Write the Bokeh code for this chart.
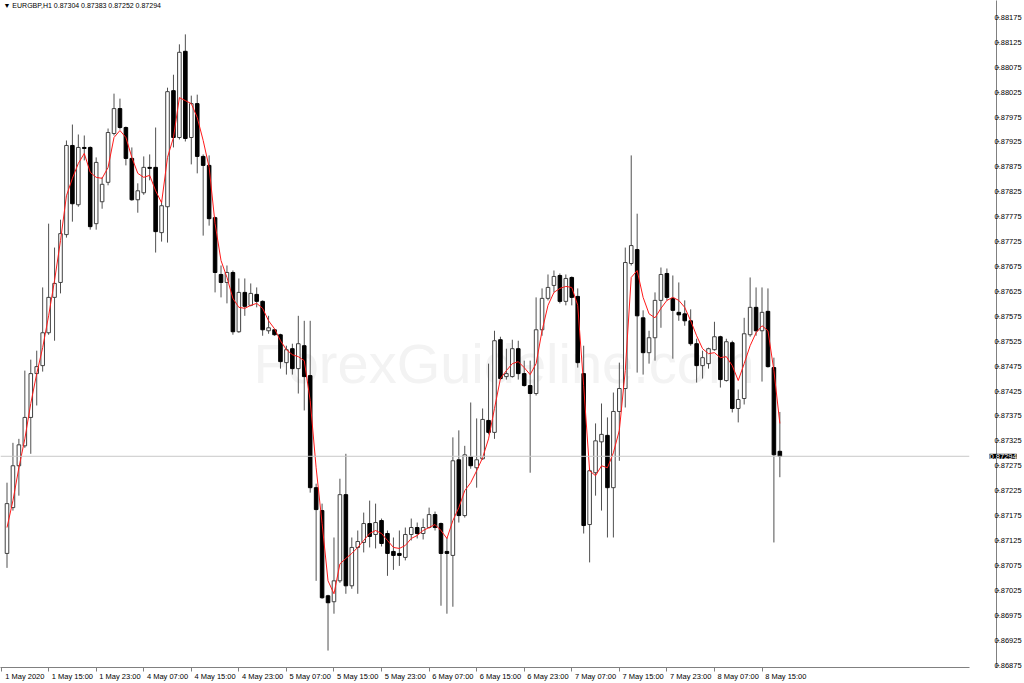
from bokeh.plotting import figure
from bokeh.models import Range1d, FixedTicker, Span, Label, PrintfTickFormatter, ColumnDataSource, LinearAxis
from bokeh.embed import file_html
from bokeh.resources import INLINE

# EURGBP H1 candles, 1 May 2020 08:00 -> 8 May 2020 18:00 (prices)
opens = [0.87099,0.87191,0.87275,0.87315,0.87372,0.87460,0.87476,0.87542,0.87613,0.87643,
         0.87739,0.87918,0.87799,0.87914,0.87914,0.87761,0.87805,0.87844,0.87942,0.87992,
         0.87954,0.87892,0.87809,0.87823,0.87874,0.87874,0.87743,0.87795,0.88028,0.87934,
         0.88107,0.87934,0.88002,0.87896,0.87878,0.87773,0.87659,0.87643,0.87663,0.87544,
         0.87623,0.87597,0.87619,0.87605,0.87546,0.87548,0.87538,0.87482,0.87510,0.87470,
         0.87516,0.87456,0.87231,0.87185,0.87014,0.87002,0.87044,0.87217,0.87034,0.87111,
         0.87121,0.87159,0.87137,0.87165,0.87139,0.87103,0.87099,0.87091,0.87137,0.87151,
         0.87139,0.87151,0.87177,0.87159,0.87103,0.87095,0.87287,0.87175,0.87293,0.87271,
         0.87289,0.87366,0.87342,0.87528,0.87454,0.87454,0.87510,0.87460,0.87436,0.87420,
         0.87548,0.87611,0.87637,0.87657,0.87605,0.87653,0.87615,0.87460,0.87157,0.87261,
         0.87323,0.87336,0.87231,0.87384,0.87430,0.87681,0.87709,0.87572,0.87502,0.87532,
         0.87607,0.87661,0.87611,0.87583,0.87580,0.87566,0.87520,0.87476,0.87480,0.87508,
         0.87534,0.87446,0.87522,0.87390,0.87410,0.87538,0.87593,0.87546,0.87585,0.87472,
         0.87304]
highs = [0.87241,0.87321,0.87329,0.87466,0.87488,0.87506,0.87633,0.87761,0.87713,0.87769,
         0.87928,0.87960,0.87940,0.87938,0.87916,0.87894,0.87854,0.87952,0.88022,0.88012,
         0.87956,0.87914,0.87842,0.87896,0.87900,0.87954,0.87807,0.88034,0.88060,0.88121,
         0.88141,0.88018,0.88020,0.87900,0.87898,0.87775,0.87677,0.87677,0.87667,0.87651,
         0.87651,0.87641,0.87633,0.87607,0.87576,0.87550,0.87540,0.87516,0.87520,0.87576,
         0.87566,0.87566,0.87239,0.87199,0.87016,0.87131,0.87249,0.87299,0.87131,0.87145,
         0.87181,0.87205,0.87199,0.87169,0.87145,0.87131,0.87145,0.87151,0.87169,0.87161,
         0.87169,0.87191,0.87183,0.87161,0.87131,0.87332,0.87346,0.87315,0.87402,0.87370,
         0.87390,0.87480,0.87546,0.87534,0.87510,0.87528,0.87526,0.87486,0.87486,0.87613,
         0.87631,0.87659,0.87667,0.87661,0.87659,0.87655,0.87631,0.87516,0.87269,0.87360,
         0.87400,0.87372,0.87422,0.87482,0.87713,0.87898,0.87781,0.87587,0.87546,0.87623,
         0.87673,0.87671,0.87657,0.87643,0.87607,0.87589,0.87530,0.87506,0.87512,0.87564,
         0.87536,0.87530,0.87526,0.87428,0.87572,0.87653,0.87633,0.87633,0.87631,0.87492,
         0.87383]
lows = [0.87070,0.87185,0.87215,0.87311,0.87299,0.87396,0.87464,0.87538,0.87526,0.87621,
        0.87733,0.87765,0.87795,0.87888,0.87749,0.87749,0.87791,0.87838,0.87938,0.87950,
        0.87878,0.87807,0.87783,0.87819,0.87848,0.87703,0.87725,0.87723,0.87914,0.87930,
        0.87926,0.87880,0.87862,0.87737,0.87757,0.87623,0.87613,0.87601,0.87538,0.87542,
        0.87576,0.87595,0.87593,0.87536,0.87540,0.87536,0.87470,0.87458,0.87458,0.87420,
        0.87386,0.87221,0.87044,0.87008,0.86904,0.86978,0.87040,0.87018,0.87028,0.87018,
        0.87101,0.87111,0.87109,0.87113,0.87054,0.87066,0.87074,0.87085,0.87125,0.87129,
        0.87127,0.87149,0.87145,0.86994,0.86978,0.86992,0.87161,0.87171,0.87269,0.87231,
        0.87287,0.87338,0.87329,0.87448,0.87448,0.87452,0.87448,0.87434,0.87261,0.87416,
        0.87536,0.87607,0.87623,0.87601,0.87597,0.87597,0.87472,0.87139,0.87081,0.87215,
        0.87185,0.87131,0.87131,0.87285,0.87392,0.87677,0.87462,0.87458,0.87480,0.87486,
        0.87552,0.87607,0.87490,0.87566,0.87556,0.87516,0.87442,0.87450,0.87470,0.87506,
        0.87432,0.87444,0.87382,0.87362,0.87398,0.87534,0.87536,0.87444,0.87472,0.87121,
        0.87252]
closes = [0.87199,0.87275,0.87317,0.87372,0.87460,0.87474,0.87542,0.87613,0.87641,0.87741,
          0.87918,0.87801,0.87914,0.87912,0.87755,0.87884,0.87840,0.87944,0.87992,0.87954,
          0.87892,0.87809,0.87827,0.87874,0.87872,0.87745,0.87797,0.88026,0.87934,0.88105,
          0.87932,0.88002,0.87896,0.87878,0.87771,0.87663,0.87643,0.87663,0.87544,0.87623,
          0.87595,0.87621,0.87605,0.87548,0.87552,0.87538,0.87484,0.87508,0.87470,0.87520,
          0.87454,0.87231,0.87187,0.87010,0.87000,0.87044,0.87217,0.87034,0.87111,0.87123,
          0.87159,0.87133,0.87161,0.87119,0.87099,0.87095,0.87095,0.87137,0.87151,0.87139,
          0.87151,0.87177,0.87151,0.87099,0.87099,0.87285,0.87175,0.87297,0.87275,0.87287,
          0.87368,0.87342,0.87526,0.87450,0.87460,0.87510,0.87460,0.87436,0.87420,0.87548,
          0.87611,0.87633,0.87655,0.87605,0.87651,0.87613,0.87482,0.87155,0.87265,0.87325,
          0.87338,0.87231,0.87384,0.87430,0.87683,0.87717,0.87576,0.87502,0.87532,0.87607,
          0.87659,0.87613,0.87587,0.87578,0.87566,0.87520,0.87476,0.87492,0.87510,0.87534,
          0.87448,0.87524,0.87390,0.87408,0.87540,0.87593,0.87546,0.87583,0.87474,0.87297,
          0.87294]
# red smoothed moving-average line
ma = [0.87151,0.87205,0.87271,0.87329,0.87400,0.87460,0.87512,0.87576,0.87647,0.87727,
      0.87817,0.87852,0.87882,0.87902,0.87864,0.87854,0.87852,0.87874,0.87934,0.87948,
      0.87934,0.87894,0.87862,0.87854,0.87858,0.87827,0.87803,0.87894,0.87934,0.88014,
      0.88008,0.88002,0.87974,0.87928,0.87874,0.87761,0.87687,0.87653,0.87611,0.87593,
      0.87591,0.87597,0.87601,0.87591,0.87566,0.87550,0.87526,0.87508,0.87498,0.87494,
      0.87486,0.87406,0.87271,0.87159,0.87044,0.87018,0.87078,0.87089,0.87099,0.87111,
      0.87125,0.87139,0.87145,0.87139,0.87125,0.87111,0.87109,0.87115,0.87129,0.87135,
      0.87145,0.87151,0.87157,0.87145,0.87129,0.87165,0.87191,0.87225,0.87241,0.87265,
      0.87291,0.87329,0.87390,0.87450,0.87466,0.87480,0.87484,0.87472,0.87458,0.87480,
      0.87546,0.87597,0.87623,0.87631,0.87635,0.87633,0.87597,0.87436,0.87265,0.87255,
      0.87275,0.87271,0.87301,0.87346,0.87466,0.87653,0.87667,0.87613,0.87580,0.87572,
      0.87591,0.87607,0.87613,0.87607,0.87593,0.87566,0.87536,0.87510,0.87500,0.87502,
      0.87492,0.87494,0.87476,0.87446,0.87480,0.87516,0.87542,0.87556,0.87546,0.87466,
      0.87360]

x_tick_bars = [-1, 7, 15, 23, 31, 39, 47, 55, 63, 71, 79, 87, 95, 103, 111, 119, 127]
x_tick_labels = ["1 May 2020", "1 May 15:00", "1 May 23:00", "4 May 07:00", "4 May 15:00",
                 "4 May 23:00", "5 May 07:00", "5 May 15:00", "5 May 23:00", "6 May 07:00",
                 "6 May 15:00", "6 May 23:00", "7 May 07:00", "7 May 15:00", "7 May 23:00",
                 "8 May 07:00", "8 May 15:00"]
y_ticks = [round(0.86875 + 0.0005 * k, 5) for k in range(27)]
last_price = 0.87294
title_text = "\u25bc EURGBP,H1  0.87304 0.87383 0.87252 0.87294"
watermark_text = "ForexGuideline.com"

FONT = "Liberation Sans"
W, H = 1024, 683
RB, BB = 34, 16
bar_px = 5.945
frame_w = 969          # frame width left once the price-box panel and the price axis are placed
gap_px = 16            # width of the price-box panel between frame and price axis
x0 = -6.5 / bar_px
x1 = x0 + frame_w / bar_px
ylo, yhi = 0.86870, 0.88209
px_price = (yhi - ylo) / 667.0

p = figure(width=W, height=H, output_backend="svg", toolbar_location=None,
           x_range=Range1d(x0, x1), y_range=Range1d(ylo, yhi),
           y_axis_location="right", min_border_left=0, min_border_top=0,
           min_border_right=RB, min_border_bottom=BB)
p.background_fill_color = "white"
p.border_fill_color = "white"
p.outline_line_color = None
p.grid.visible = False

# watermark
p.add_layout(Label(x=(253 - 6.5) / bar_px, y=yhi - 363 * px_price,
                   text=watermark_text, text_font=FONT, text_font_size="56px",
                   text_color="#f3f3f3", text_baseline="alphabetic", level="underlay"))

p.add_layout(Span(location=last_price, dimension="width", line_color="#c8c8c8", line_width=1))

xs = list(range(len(opens)))
up = [c >= o for o, c in zip(opens, closes)]
src_up = ColumnDataSource(dict(
    x=[x for x, u in zip(xs, up) if u],
    top=[c for c, u in zip(closes, up) if u],
    bottom=[o for o, u in zip(opens, up) if u]))
src_dn = ColumnDataSource(dict(
    x=[x for x, u in zip(xs, up) if not u],
    top=[o for o, u in zip(opens, up) if not u],
    bottom=[c for c, u in zip(closes, up) if not u]))

p.segment(x0=xs, y0=lows, x1=xs, y1=highs, line_color="#505050", line_width=1)
p.vbar(x="x", top="top", bottom="bottom", width=0.6, source=src_up,
       fill_color="white", line_color="#404040", line_width=1)
p.vbar(x="x", top="top", bottom="bottom", width=0.6, source=src_dn,
       fill_color="black", line_color="black", line_width=1)
p.line(xs, ma, line_color="#ff1a1a", line_width=1)

# price axis
ya = p.yaxis[0]
ya.ticker = FixedTicker(ticks=y_ticks)
ya.formatter = PrintfTickFormatter(format="%.5f")
ya.axis_line_color = "#808080"
ya.major_tick_line_color = "#808080"
ya.major_tick_out = 3
ya.major_tick_in = 0
ya.minor_tick_line_color = None
ya.major_label_standoff = -5
ya.major_label_text_font = FONT
ya.major_label_text_font_size = "7.5px"
ya.major_label_text_color = "black"

# time axis: tick marks at the bars
xa = p.xaxis[0]
xa.ticker = FixedTicker(ticks=x_tick_bars)
xa.axis_line_color = "#808080"
xa.major_tick_line_color = "#808080"
xa.major_tick_out = 4
xa.major_tick_in = 0
xa.minor_tick_line_color = None
xa.major_label_standoff = 0
xa.major_label_text_font_size = "0px"
xa.major_label_text_alpha = 0

# time axis labels, written to the right of each tick
lab_ticks = [b + 4 for b in x_tick_bars]
xl = LinearAxis(ticker=FixedTicker(ticks=lab_ticks),
                major_label_overrides={b: t for b, t in zip(lab_ticks, x_tick_labels)})
xl.axis_line_color = None
xl.major_tick_line_color = None
xl.minor_tick_line_color = None
xl.major_label_standoff = -6
xl.major_label_text_font = FONT
xl.major_label_text_font_size = "7.5px"
xl.major_label_text_color = "black"
p.add_layout(xl, "below")

# title
p.add_layout(Label(x=x0 + 3 / bar_px, y=yhi - 5 * px_price,
                   text=title_text, text_font=FONT, text_font_size="7px",
                   text_color="black", text_baseline="middle"))

# current price box on the price axis (its own side panel, placed next to the frame)
price_box = Label(x=x1 + (gap_px + 4) / bar_px, y=last_price,
                  text="%.5f" % last_price, text_font=FONT, text_font_size="7.5px",
                  text_color="white", text_baseline="middle",
                  background_fill_color="black", background_fill_alpha=1.0)
p.right = [price_box] + list(p.right)

open("out.html", "w").write(file_html(p, INLINE))
